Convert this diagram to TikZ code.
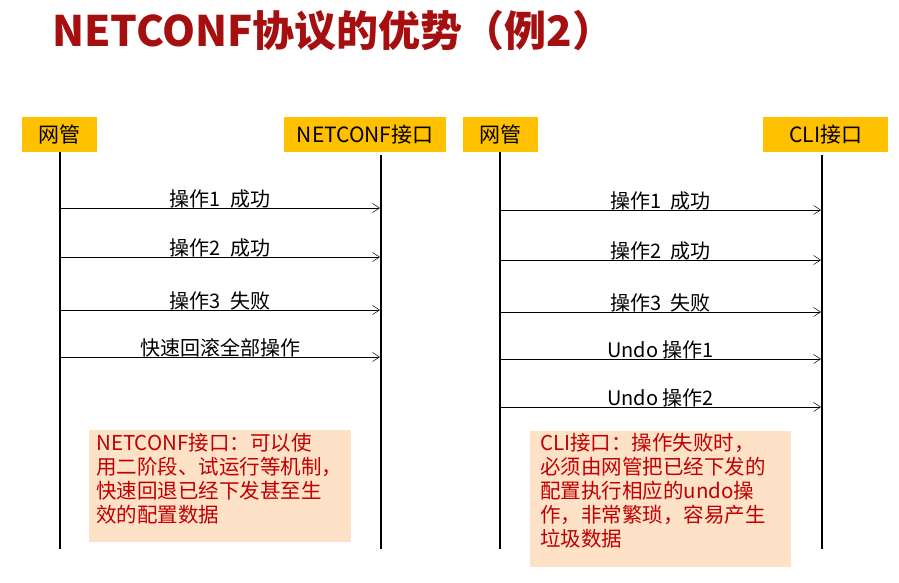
\documentclass[tikz,border=0pt]{standalone}
\usepackage{fontspec}
\setmainfont{Noto Sans CJK SC}
\usetikzlibrary{arrows.meta}
\definecolor{hd}{HTML}{FFC000}
\definecolor{tr}{HTML}{A50F0F}
\definecolor{nf}{HTML}{FDE2C8}
\definecolor{nt}{HTML}{C00000}
\begin{document}
\begin{tikzpicture}[x=1pt,y=-1pt,
  hdr/.style={fill=hd,inner sep=0,minimum height=35,font=\fontsize{21}{24}\selectfont,anchor=north west},
  life/.style={line width=2.6pt},
  msg/.style={-{Straight Barb[length=7pt,width=9pt]},line width=0.5pt},
  lbl/.style={font=\fontsize{20}{23}\selectfont,above,inner sep=0pt},
  notebox/.style={fill=nf,draw=none},
  note/.style={text=nt,anchor=north west,align=left,inner sep=0pt,font=\fontsize{20.5}{24}\selectfont}]
\useasboundingbox (0,0) rectangle (899,583);
\node[text=tr,font=\bfseries\fontsize{42}{48}\selectfont,anchor=west,inner sep=0] (title) at (52,31) {NETCONF协议的优势（例2）};
% left
\node[hdr,minimum width=75] (nm1) at (22,117) {网管};
\node[hdr,minimum width=162] (nc) at (284,117) {NETCONF接口};
\coordinate (a0) at (60,152); \coordinate (a1) at (60,549);
\coordinate (b0) at (381,155); \coordinate (b1) at (381,549);
\draw[life] (a0) -- (a1); \draw[life] (b0) -- (b1);
\foreach \y/\t [count=\i] in {208/操作1\ \ 成功,257/操作2\ \ 成功,310/操作3\ \ 失败,357/快速回滚全部操作}{
  \coordinate (ls\i) at (60,\y); \coordinate (le\i) at (380,\y);
  \draw[msg] (ls\i) -- node[lbl]{\t} (le\i);}
\fill[notebox] (89,430) rectangle (351,542);
\node[note] (n1) at (96,433) {NETCONF接口：可以使\\用二阶段、试运行等机制，\\快速回退已经下发甚至生\\效的配置数据};
% right
\node[hdr,minimum width=75] (nm2) at (463,117) {网管};
\node[hdr,minimum width=125] (cli) at (763,117) {CLI接口};
\coordinate (c0) at (500,152); \coordinate (c1) at (500,549);
\coordinate (d0) at (822,155); \coordinate (d1) at (822,549);
\draw[life] (c0) -- (c1); \draw[life] (d0) -- (d1);
\foreach \y/\t [count=\i] in {210/操作1\ \ 成功,260/操作2\ \ 成功,312/操作3\ \ 失败,359/Undo 操作1,407/Undo 操作2}{
  \coordinate (rs\i) at (500,\y); \coordinate (re\i) at (821,\y);
  \draw[msg] (rs\i) -- node[lbl]{\t} (re\i);}
\fill[notebox] (530,431) rectangle (791,567);
\node[note] (n2) at (540,433) {CLI接口：操作失败时，\\必须由网管把已经下发的\\配置执行相应的undo操\\作，非常繁琐，容易产生\\垃圾数据};
\end{tikzpicture}
\end{document}
